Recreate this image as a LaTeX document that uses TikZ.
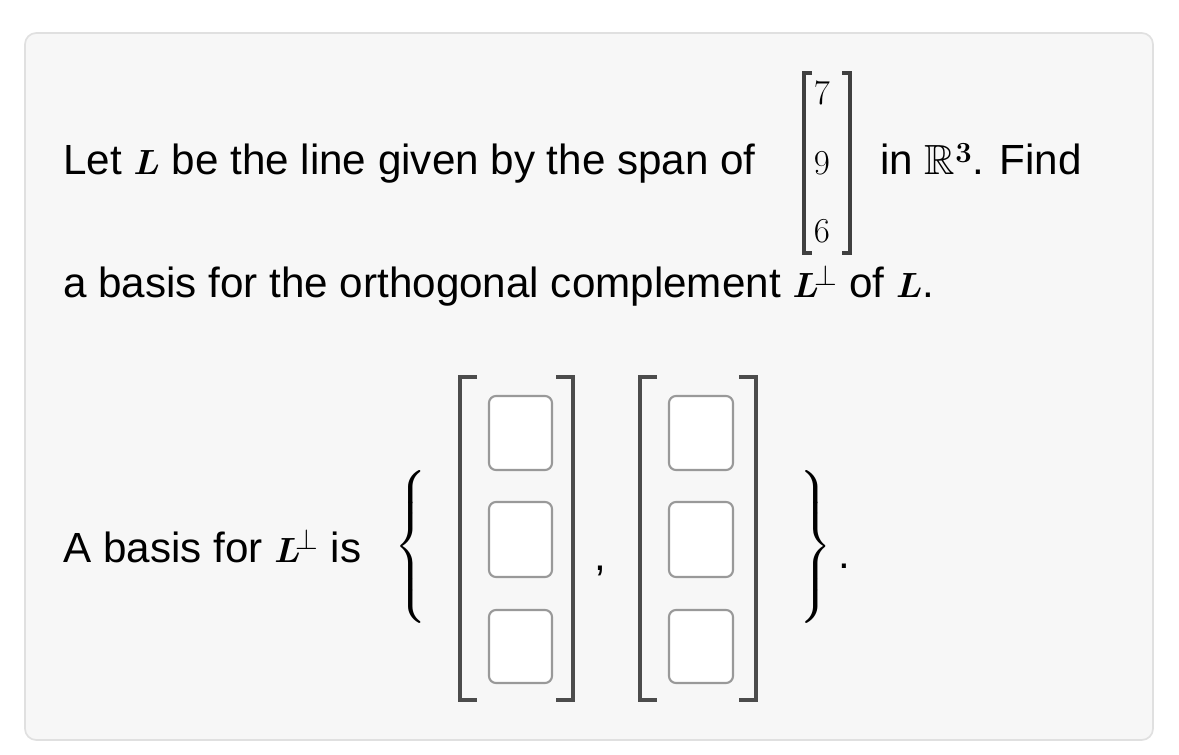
\documentclass[tikz,border=0pt]{standalone}
\usepackage{amsmath,amssymb}
\usepackage[no-math]{fontspec}
\setmainfont{Liberation Sans}
\begin{document}
\begin{tikzpicture}[x=0.025cm,y=-0.025cm,
  txt/.style={anchor=base west,inner sep=0pt,font=\fontsize{30}{34}\selectfont},
  num/.style={anchor=base,inner sep=0pt,font=\fontsize{31}{34}\selectfont},
  brk/.style={draw=black!75,line width=2.2pt},
  gbrk/.style={draw=black!70,line width=3pt},
  ibox/.style={draw=black!40,line width=1.5pt,fill=white,rounded corners=5pt}]
\useasboundingbox (0,0) rectangle (1179,755);
\draw[fill=black!3,draw=black!12,line width=1.2pt,rounded corners=8pt] (25,33) rectangle (1153,740);
\node[txt] (t1) at (63,175) {Let $\boldsymbol{L}$ be the line given by the span of};
\node[num] (n7) at (822,105) {$7$};
\node[num] (n9) at (822,175) {$9$};
\node[num] (n6) at (822,243) {$6$};
\draw[brk] (812,73) -- (804,73) -- (804,253) -- (812,253);
\draw[brk] (842,73) -- (850,73) -- (850,253) -- (842,253);
\node[txt] (t2) at (880,175) {in $\mathbb{R}^{\mathbf 3}$. Find};
\node[txt] (t3) at (63,298) {a basis for the orthogonal complement $\boldsymbol{L}^{\!\perp}$ of $\boldsymbol{L}$.};
\node[txt] (t4) at (63,562) {A basis for $\boldsymbol{L}^{\!\perp}$ is};
\node[inner sep=0pt,font=\fontsize{26}{30}\selectfont] (lb) at (412,548) {$\left\{\vphantom{\rule[-50pt]{1pt}{100pt}}\right.$};
\draw[gbrk] (477,377) -- (460,377) -- (460,700) -- (477,700);
\draw[gbrk] (556,377) -- (573,377) -- (573,700) -- (556,700);
\draw[ibox] (489,396) rectangle (552,470);
\draw[ibox] (489,502) rectangle (552,577);
\draw[ibox] (489,610) rectangle (552,683);
\node[txt] (cm) at (594,570) {,};
\draw[gbrk] (657,377) -- (640,377) -- (640,700) -- (657,700);
\draw[gbrk] (739,377) -- (756,377) -- (756,700) -- (739,700);
\draw[ibox] (669,396) rectangle (733,470);
\draw[ibox] (669,502) rectangle (733,577);
\draw[ibox] (669,610) rectangle (733,683);
\node[inner sep=0pt,font=\fontsize{26}{30}\selectfont] (rb) at (815,548) {$\left.\vphantom{\rule[-50pt]{1pt}{100pt}}\right\}$};
\node[txt] (pd) at (838,568) {.};
\end{tikzpicture}
\end{document}
